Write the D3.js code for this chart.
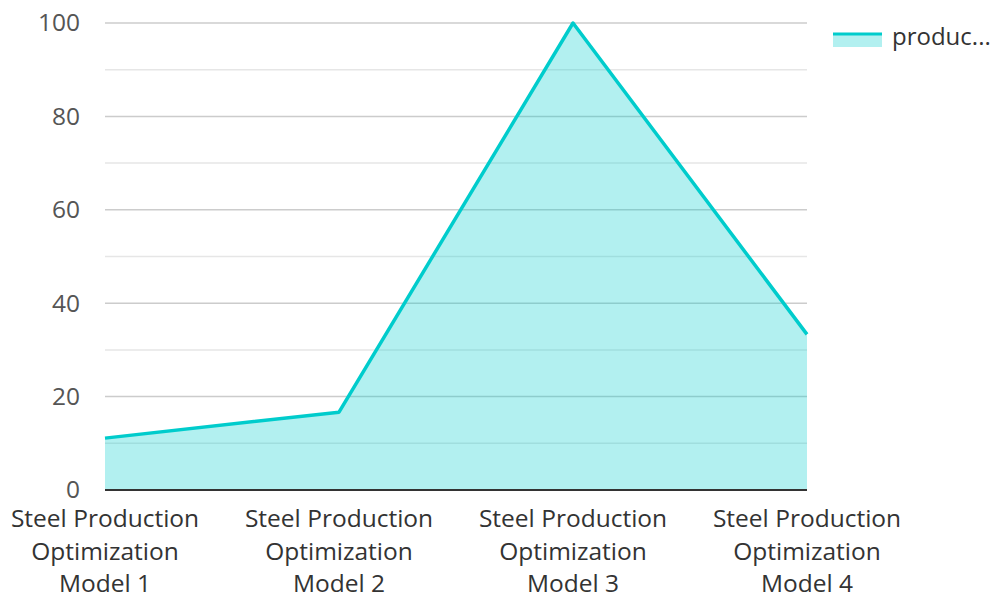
<!DOCTYPE html>
<html>
<head>
<meta charset="utf-8">
<script src="https://cdn.jsdelivr.net/npm/d3@7"></script>
<style>
  html, body { margin: 0; padding: 0; background: #fff; }
  svg { display: block; font-family: "Open Sans", "Noto Sans", sans-serif; }
</style>
</head>
<body>
<svg id="chart" width="994" height="594"></svg>
<script>
// Series data
const categories = [
  "Steel Production Optimization Model 1",
  "Steel Production Optimization Model 2",
  "Steel Production Optimization Model 3",
  "Steel Production Optimization Model 4"
];
const values = [11.11, 16.67, 100, 33.33];
const yTicks = [0, 20, 40, 60, 80, 100];
const minorTicks = [10, 30, 50, 70, 90];
const legendLabel = "produc...";

const lineColor = "#00cccc";
const fillColor = "rgba(0,204,204,0.3)";
const fontSize = 24.5;

const svg = d3.select("#chart");
const margin = { left: 105, right: 187, top: 23, bottom: 104 };
const width = 994 - margin.left - margin.right;
const height = 594 - margin.top - margin.bottom;

const g = svg.append("g").attr("transform", `translate(${margin.left},${margin.top})`);

const x = d3.scalePoint().domain(categories).range([0, width]).padding(0);
const y = d3.scaleLinear().domain([0, 100]).range([height, 0]);

// Gridlines
g.selectAll(".minor").data(minorTicks).join("line")
  .attr("x1", 0).attr("x2", width)
  .attr("y1", d => y(d)).attr("y2", d => y(d))
  .attr("stroke", "#e6e6e6").attr("stroke-width", 1.5);
g.selectAll(".major").data(yTicks.filter(d => d > 0)).join("line")
  .attr("x1", 0).attr("x2", width)
  .attr("y1", d => y(d)).attr("y2", d => y(d))
  .attr("stroke", "#cccccc").attr("stroke-width", 1.5);

// Y axis labels
const yAxis = d3.axisLeft(y).tickValues(yTicks).tickSize(0).tickPadding(25);
const yg = g.append("g").call(yAxis);
yg.select(".domain").remove();
yg.selectAll("text").attr("font-size", fontSize).attr("fill", "#555")
  .attr("font-family", "'Open Sans', 'Noto Sans', sans-serif");

// Area and line
const area = d3.area().x((d, i) => x(categories[i])).y0(y(0)).y1(d => y(d));
const line = d3.line().x((d, i) => x(categories[i])).y(d => y(d));

g.append("path").datum(values).attr("d", area).attr("fill", fillColor);
g.append("path").datum(values).attr("d", line)
  .attr("fill", "none").attr("stroke", lineColor).attr("stroke-width", 3.5)
  .attr("stroke-linejoin", "round");

// X axis baseline
g.append("line").attr("x1", 0).attr("x2", width)
  .attr("y1", height).attr("y2", height)
  .attr("stroke", "#333").attr("stroke-width", 2);

// X category labels (wrapped into three lines)
const xg = g.append("g");
categories.forEach(c => {
  const parts = ["Steel Production", "Optimization", c.replace("Steel Production Optimization ", "")];
  const t = xg.append("text")
    .attr("x", x(c)).attr("y", height + 37)
    .attr("text-anchor", "middle").attr("font-size", fontSize).attr("fill", "#333");
  parts.forEach((p, i) => {
    t.append("tspan").attr("x", x(c)).attr("dy", i === 0 ? 0 : 32.5).text(p);
  });
});

// Legend
const lg = svg.append("g").attr("transform", "translate(833,34)");
lg.append("rect").attr("x", 0).attr("y", 0).attr("width", 49).attr("height", 13).attr("fill", fillColor);
lg.append("line").attr("x1", 0).attr("x2", 49).attr("y1", 0).attr("y2", 0)
  .attr("stroke", lineColor).attr("stroke-width", 3);
lg.append("text").attr("x", 59).attr("y", 11).attr("font-size", 24).attr("fill", "#333").text(legendLabel);
</script>
</body>
</html>
